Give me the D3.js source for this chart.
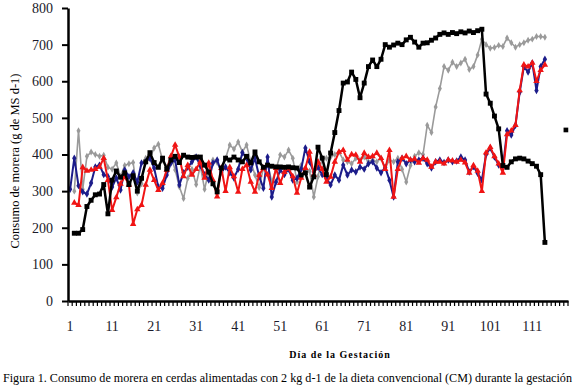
<!DOCTYPE html>
<html>
<head>
<meta charset="utf-8">
<script src="https://cdn.jsdelivr.net/npm/d3@7"></script>
<style>
  html, body { margin: 0; padding: 0; background: #fff; }
  svg { display: block; }
  text { font-family: "Liberation Serif", "Times New Roman", serif; }
</style>
</head>
<body>
<div id="grafico"></div>
<script>
// Días de gestación (categorías del eje X)
const primerDia = 1;
const ultimoDia = 119;
const etiquetasX = [1, 11, 21, 31, 41, 51, 61, 71, 81, 91, 101, 111];
const ticksY = [0, 100, 200, 300, 400, 500, 600, 700, 800];

// Consumo de morera (g MS d-1), un valor por día a partir del día 1 (null = sin dato)
const serieNegra = [
  null, 185, 185, 195, 258, 275, 290, 292, 318, 238,
  330, 355, 338, 350, 318, 342, 300, 335, 380, 405,
  378, 365, 390, 360, 385, 395, 378, 398, 393, 392,
  393, 393, 371, 352, 320, 298, 363, 390, 385, 393,
  385, 380, 395, 377, 407, 380, 365, 371, 368, 366,
  366, 365, 366, 364, 363, 344, 350, 311, 339, 420,
  390, 345, 404, 460, 520, 595, 598, 625, 605, 555,
  595, 640, 658, 640, 660, 700, 693, 699, 704, 700,
  713, 720, 707, 693, 704, 705, 712, 718, 728, 732,
  728, 733, 730, 735, 732, 737, 733, 738, 742, 565,
  540, 505, 470, 370, 365, 380, 388, 390, 388, 382,
  375, 368, 345, 160
];

const serieGris = [
  null, 300, 465, 305, 395, 407, 400, 395, 398, 365,
  360, 377, 340, 370, 375, 378, 295, 320, 390, 390,
  418, 428, 385, 365, 395, 358, 312, 280, 335, 360,
  318, 370, 305, 355, 385, 378, 355, 390, 426, 415,
  434, 407, 426, 380, 344, 310, 363, 375, 325, 360,
  399, 393, 412, 390, 325, 371, 350, 355, 284, 340,
  390, 390, 393, 400, 407, 385, 380, 375, 390, 385,
  393, 380, 385, 380, 390, 363, 385, 380, 390, 360,
  325, 370, 395, 405, 400, 480, 460, 530, 580, 640,
  630, 652, 640, 650, 660, 632, 640, 672, 715, 700,
  690, 692, 698, 695, 718, 705, 693, 700, 705, 712,
  715, 722, 722, 720
];

const serieAzul = [
  305, 390, 315, 298, 292, 322, 366, 371, 345, 340,
  311, 336, 303, 358, 339, 350, 325, 377, 380, 390,
  363, 311, 308, 344, 377, 385, 317, 350, 365, 380,
  393, 370, 345, 330, 377, 385, 352, 366, 350, 336,
  360, 405, 390, 358, 390, 340, 308, 393, 284, 325,
  358, 345, 360, 330, 335, 360, 418, 380, 352, 365,
  345, 336, 317, 344, 330, 371, 344, 358, 352, 366,
  360, 375, 380, 363, 350, 365, 330, 284, 380, 390,
  375, 385, 380, 385, 390, 375, 363, 380, 385, 378,
  385, 380, 382, 393, 385, 352, 367, 349, 330, 400,
  418, 393, 371, 363, 465, 453, 480, 570, 640, 625,
  650, 575, 640, 660
];

const serieRoja = [
  null, 268, 262, 365, 355, 358, 360, 366, 390, 330,
  248, 283, 320, 339, 317, 210, 250, 262, 317, 358,
  330, 303, 322, 358, 395, 426, 393, 340, 371, 344,
  360, 380, 336, 377, 330, 285, 363, 300, 365, 340,
  298, 360, 371, 325, 298, 344, 363, 345, 308, 363,
  322, 352, 362, 340, 295, 336, 363, 407, 344, 380,
  360, 325, 339, 380, 407, 412, 385, 400, 399, 380,
  404, 393, 395, 404, 390, 360, 412, 284, 360, 390,
  395, 385, 388, 377, 390, 385, 366, 380, 380, 375,
  385, 383, 380, 385, 378, 350, 370, 355, 300, 405,
  420, 395, 375, 350, 455, 465, 480, 575, 645, 640,
  650, 600, 630, 645
];

// Punto suelto a la derecha del gráfico
const diaAislado = [119];
const valorAislado = [467];

const ancho = 576, alto = 390;
const margen = { top: 8, right: 8, bottom: 89, left: 68 };

const svg = d3.select('#grafico').append('svg')
  .attr('width', ancho)
  .attr('height', alto);

const dias = d3.range(primerDia, ultimoDia + 1);

const x = d3.scaleBand()
  .domain(dias)
  .range([margen.left, ancho - margen.right]);

const y = d3.scaleLinear()
  .domain([0, 800])
  .range([alto - margen.bottom, margen.top]);

const cx = d => x(d) + x.bandwidth() / 2;

function aPuntos(valores) {
  return valores.map((v, i) => ({ dia: primerDia + i, valor: v }));
}

const series = [
  { nombre: 'gris', valores: serieGris, color: '#9a9a9a', grosor: 1.6,
    simbolo: d3.symbolDiamond, tam: 14 },
  { nombre: 'azul', valores: serieAzul, color: '#1c1c8a', grosor: 2,
    simbolo: d3.symbolDiamond, tam: 16 },
  { nombre: 'roja', valores: serieRoja, color: '#f01414', grosor: 2,
    simbolo: d3.symbolTriangle, tam: 18 },
  { nombre: 'negra', valores: serieNegra, color: '#000000', grosor: 2.5,
    simbolo: d3.symbolSquare, tam: 24 }
];

const linea = d3.line()
  .defined(d => d.valor != null)
  .x(d => cx(d.dia))
  .y(d => y(d.valor));

series.forEach(s => {
  const puntos = aPuntos(s.valores);
  const g = svg.append('g').attr('class', 'serie-' + s.nombre);

  g.append('path')
    .datum(puntos)
    .attr('fill', 'none')
    .attr('stroke', s.color)
    .attr('stroke-width', s.grosor)
    .attr('stroke-linejoin', 'round')
    .attr('d', linea);

  g.selectAll('path.marca')
    .data(puntos.filter(d => d.valor != null))
    .enter()
    .append('path')
    .attr('class', 'marca')
    .attr('transform', d => `translate(${cx(d.dia)},${y(d.valor)})`)
    .attr('d', d3.symbol().type(s.simbolo).size(s.tam))
    .attr('fill', s.color);
});

// Punto aislado
svg.selectAll('path.aislado')
  .data(diaAislado.map((d, i) => ({ dia: d, valor: valorAislado[i] })))
  .enter()
  .append('path')
  .attr('class', 'aislado')
  .attr('transform', d => `translate(${cx(d.dia)},${y(d.valor)})`)
  .attr('d', d3.symbol().type(d3.symbolSquare).size(22))
  .attr('fill', '#000');

// Eje Y
const ejeY = svg.append('g')
  .attr('transform', `translate(${margen.left},0)`)
  .call(d3.axisLeft(y).tickValues(ticksY).tickSize(6).tickPadding(9).tickSizeOuter(0));
ejeY.select('.domain').attr('stroke', '#000').attr('stroke-width', 2.5);
ejeY.selectAll('.tick line').attr('stroke', '#000').attr('stroke-width', 2);
ejeY.selectAll('.tick text')
  .attr('font-size', '14px')
  .attr('font-family', '"Liberation Serif", serif')
  .attr('fill', '#1a1a2a');

// Eje X: marcas en cada límite de categoría, etiquetas cada 10 días
const yBase = y(0);
const limites = dias.map(d => x(d)).concat([x.range()[1]]);
svg.append('g')
  .selectAll('line')
  .data(limites)
  .enter()
  .append('line')
  .attr('x1', d => d)
  .attr('x2', d => d)
  .attr('y1', yBase)
  .attr('y2', yBase + 5)
  .attr('stroke', '#000')
  .attr('stroke-width', 1.2);

const ejeX = svg.append('g')
  .attr('transform', `translate(0,${yBase})`)
  .call(d3.axisBottom(x).tickValues(etiquetasX).tickSize(0).tickPadding(20).tickSizeOuter(0));
ejeX.select('.domain').attr('stroke', '#000').attr('stroke-width', 2.5);
ejeX.selectAll('.tick text')
  .attr('font-size', '14px')
  .attr('font-family', '"Liberation Serif", serif')
  .attr('fill', '#1a1a2a');

// Títulos de los ejes
svg.append('text')
  .attr('transform', 'rotate(-90)')
  .attr('x', -161)
  .attr('y', 19)
  .attr('text-anchor', 'middle')
  .attr('font-size', '12.5px')
  .attr('fill', '#000')
  .text('Consumo de morera (g de  MS d-1)');

svg.append('text')
  .attr('x', 340)
  .attr('y', 358)
  .attr('text-anchor', 'middle')
  .attr('font-size', '10px')
  .attr('font-weight', 'bold')
  .attr('letter-spacing', '1px')
  .attr('fill', '#000')
  .text('Día de la Gestación');

// Pie de figura
svg.append('text')
  .attr('x', 3)
  .attr('y', 382)
  .attr('font-size', '12px')
  .attr('textLength', 569)
  .attr('lengthAdjust', 'spacingAndGlyphs')
  .attr('fill', '#000')
  .text('Figura 1. Consumo de morera en cerdas alimentadas con 2 kg d-1 de la dieta convencional (CM) durante la gestación');
</script>
</body>
</html>
